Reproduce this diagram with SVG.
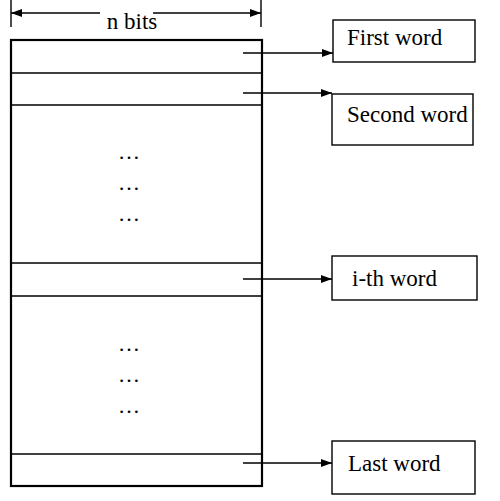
<svg xmlns="http://www.w3.org/2000/svg" width="500" height="501" viewBox="0 0 500 501">
<defs>
<marker id="ah" markerWidth="11" markerHeight="8" refX="11" refY="4" orient="auto" markerUnits="userSpaceOnUse"><path d="M0,0 L11,4 L0,8 Z" fill="#000"/></marker>
<style>
.t{font-family:"Liberation Serif","Times New Roman",serif;font-size:23px;fill:#000}
.d{font-family:"Liberation Serif","Times New Roman",serif;font-size:22px;fill:#000;text-anchor:middle}
.ln{stroke:#000;stroke-width:1.4;fill:none}
.box{stroke:#000;stroke-width:1.4;fill:#fff}
</style>
</defs>
<rect width="500" height="501" fill="#fff"/>
<g id="memory">
<rect x="11" y="40" width="251" height="446" fill="#fff" stroke="#000" stroke-width="2.2"/>
<line class="ln" x1="11" y1="73" x2="262" y2="73"/>
<line class="ln" x1="11" y1="105" x2="262" y2="105"/>
<line class="ln" x1="11" y1="263" x2="262" y2="263"/>
<line class="ln" x1="11" y1="296" x2="262" y2="296"/>
<line class="ln" x1="11" y1="454" x2="262" y2="454"/>
<text class="d" x="129" y="159">…</text>
<text class="d" x="129" y="190">…</text>
<text class="d" x="129" y="221">…</text>
<text class="d" x="129" y="351">…</text>
<text class="d" x="129" y="382">…</text>
<text class="d" x="129" y="413">…</text>
</g>
<g id="width">
<line class="ln" x1="11" y1="0" x2="11" y2="27"/>
<line class="ln" x1="261" y1="0" x2="261" y2="27"/>
<line class="ln" x1="100" y1="13" x2="11" y2="13" marker-end="url(#ah)"/>
<line class="ln" x1="153" y1="13" x2="261" y2="13" marker-end="url(#ah)"/>
<text class="t" x="132" y="29" text-anchor="middle">n bits</text>
</g>
<g id="first"><rect class="box" x="333" y="20" width="142" height="42"/><text class="t" x="347" y="45">First word</text></g>
<g id="second"><rect class="box" x="332" y="94" width="141" height="51"/><text class="t" x="347" y="122">Second word</text></g>
<g id="ith"><rect class="box" x="332" y="256" width="145" height="44"/><text class="t" x="352" y="286">i-th word</text></g>
<g id="last"><rect class="box" x="332" y="441" width="143" height="53"/><text class="t" x="348" y="471">Last word</text></g>
<g id="connectors">
<line class="ln" x1="243" y1="53" x2="333" y2="53" marker-end="url(#ah)"/>
<line class="ln" x1="243" y1="93" x2="332" y2="93" marker-end="url(#ah)"/>
<line class="ln" x1="243" y1="279" x2="332" y2="279" marker-end="url(#ah)"/>
<line class="ln" x1="243" y1="463" x2="332" y2="463" marker-end="url(#ah)"/>
</g>
</svg>
